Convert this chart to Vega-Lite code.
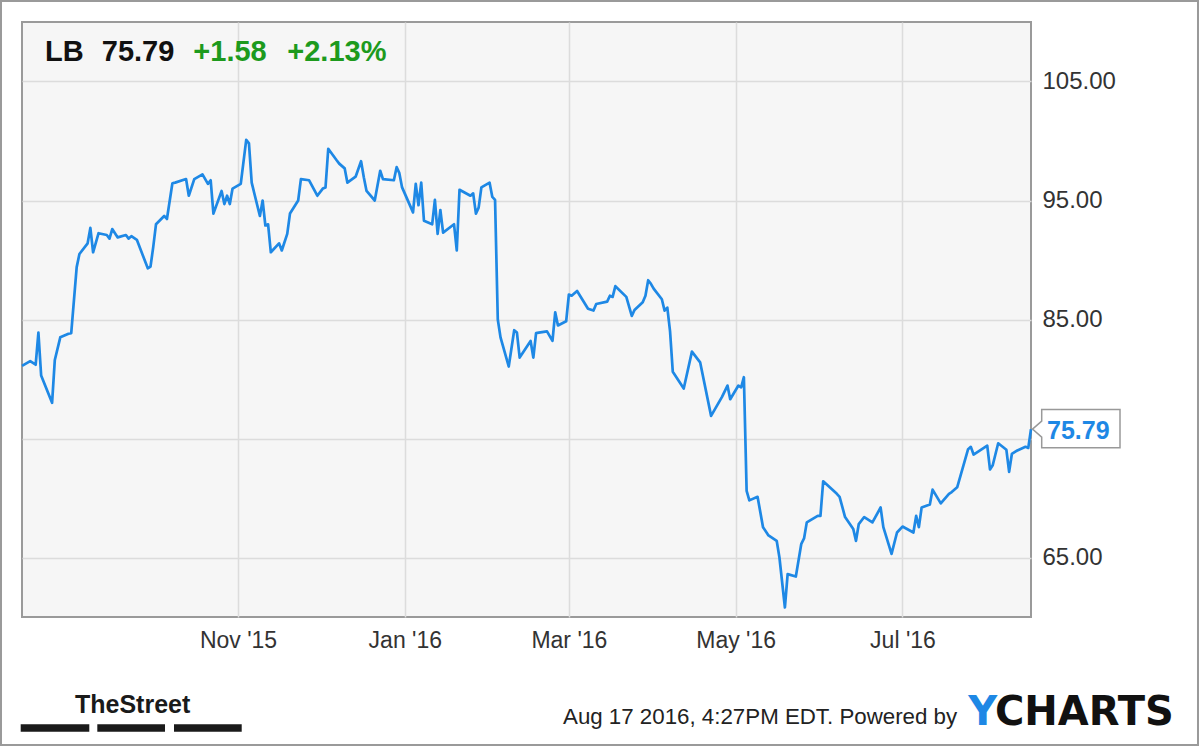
{
  "$schema": "https://vega.github.io/schema/vega-lite/v6.json",
  "autosize": "none",
  "width": 1009,
  "height": 595,
  "padding": {"left": 22, "top": 22, "right": 169, "bottom": 130},
  "background": "#ffffff",
  "config": {
    "view": {"fill": "#f6f6f6", "stroke": "#9a9a9a", "strokeWidth": 2},
    "axis": {"labelFont": "Liberation Sans", "labelColor": "#333333", "gridColor": "#dcdcdc", "gridWidth": 1.5, "ticks": false, "domain": false}
  },
  "datasets": {
    "prices": [
      {"date": "2015-08-14", "price": 81.1}, {"date": "2015-08-17", "price": 81.5}, {"date": "2015-08-19", "price": 81.2},
      {"date": "2015-08-20", "price": 83.9}, {"date": "2015-08-21", "price": 80.3}, {"date": "2015-08-25", "price": 78.0},
      {"date": "2015-08-26", "price": 81.6}, {"date": "2015-08-28", "price": 83.5}, {"date": "2015-08-31", "price": 83.8},
      {"date": "2015-09-01", "price": 83.85}, {"date": "2015-09-03", "price": 89.4}, {"date": "2015-09-04", "price": 90.5},
      {"date": "2015-09-07", "price": 91.4}, {"date": "2015-09-08", "price": 92.7}, {"date": "2015-09-09", "price": 90.65},
      {"date": "2015-09-11", "price": 92.25}, {"date": "2015-09-14", "price": 92.1}, {"date": "2015-09-15", "price": 91.8},
      {"date": "2015-09-16", "price": 92.6}, {"date": "2015-09-18", "price": 91.9}, {"date": "2015-09-21", "price": 92.1},
      {"date": "2015-09-22", "price": 91.8}, {"date": "2015-09-23", "price": 92.0}, {"date": "2015-09-25", "price": 91.7},
      {"date": "2015-09-29", "price": 89.3}, {"date": "2015-09-30", "price": 89.45}, {"date": "2015-10-01", "price": 91.1},
      {"date": "2015-10-02", "price": 93.0}, {"date": "2015-10-05", "price": 93.7}, {"date": "2015-10-06", "price": 93.45},
      {"date": "2015-10-08", "price": 96.45}, {"date": "2015-10-09", "price": 96.5}, {"date": "2015-10-13", "price": 96.8},
      {"date": "2015-10-14", "price": 95.4}, {"date": "2015-10-16", "price": 96.8}, {"date": "2015-10-19", "price": 97.2},
      {"date": "2015-10-21", "price": 96.4}, {"date": "2015-10-22", "price": 96.7}, {"date": "2015-10-23", "price": 93.9},
      {"date": "2015-10-26", "price": 95.8}, {"date": "2015-10-27", "price": 94.7}, {"date": "2015-10-28", "price": 95.4},
      {"date": "2015-10-29", "price": 94.7}, {"date": "2015-10-30", "price": 96.0}, {"date": "2015-11-02", "price": 96.4},
      {"date": "2015-11-04", "price": 100.1}, {"date": "2015-11-05", "price": 99.8}, {"date": "2015-11-06", "price": 96.5},
      {"date": "2015-11-09", "price": 93.7}, {"date": "2015-11-10", "price": 95.0}, {"date": "2015-11-11", "price": 92.9},
      {"date": "2015-11-12", "price": 93.0}, {"date": "2015-11-13", "price": 90.65}, {"date": "2015-11-16", "price": 91.4},
      {"date": "2015-11-17", "price": 90.8}, {"date": "2015-11-19", "price": 92.2}, {"date": "2015-11-20", "price": 93.9},
      {"date": "2015-11-23", "price": 95.0}, {"date": "2015-11-24", "price": 96.8}, {"date": "2015-11-27", "price": 96.7},
      {"date": "2015-11-30", "price": 95.4}, {"date": "2015-12-02", "price": 96.0}, {"date": "2015-12-03", "price": 96.1},
      {"date": "2015-12-04", "price": 99.35}, {"date": "2015-12-07", "price": 98.4}, {"date": "2015-12-08", "price": 98.1},
      {"date": "2015-12-10", "price": 97.7}, {"date": "2015-12-11", "price": 96.5}, {"date": "2015-12-14", "price": 97.0},
      {"date": "2015-12-16", "price": 98.3}, {"date": "2015-12-17", "price": 96.95}, {"date": "2015-12-18", "price": 95.8},
      {"date": "2015-12-21", "price": 95.0}, {"date": "2015-12-23", "price": 97.5}, {"date": "2015-12-24", "price": 96.8},
      {"date": "2015-12-28", "price": 96.7}, {"date": "2015-12-29", "price": 97.8}, {"date": "2015-12-30", "price": 97.3},
      {"date": "2015-12-31", "price": 96.1}, {"date": "2016-01-04", "price": 94.0}, {"date": "2016-01-05", "price": 96.4},
      {"date": "2016-01-06", "price": 94.6}, {"date": "2016-01-07", "price": 96.5}, {"date": "2016-01-08", "price": 93.3},
      {"date": "2016-01-11", "price": 93.0}, {"date": "2016-01-12", "price": 95.05}, {"date": "2016-01-13", "price": 92.2},
      {"date": "2016-01-14", "price": 94.2}, {"date": "2016-01-15", "price": 92.3}, {"date": "2016-01-19", "price": 93.0},
      {"date": "2016-01-20", "price": 90.8}, {"date": "2016-01-21", "price": 95.9}, {"date": "2016-01-25", "price": 95.4},
      {"date": "2016-01-26", "price": 95.6}, {"date": "2016-01-27", "price": 93.9}, {"date": "2016-01-28", "price": 94.4},
      {"date": "2016-01-29", "price": 96.1}, {"date": "2016-02-01", "price": 96.5}, {"date": "2016-02-02", "price": 95.3},
      {"date": "2016-02-03", "price": 95.05}, {"date": "2016-02-04", "price": 85.0}, {"date": "2016-02-05", "price": 83.5},
      {"date": "2016-02-08", "price": 81.05}, {"date": "2016-02-10", "price": 84.1}, {"date": "2016-02-11", "price": 83.9},
      {"date": "2016-02-12", "price": 81.8}, {"date": "2016-02-16", "price": 83.2}, {"date": "2016-02-17", "price": 81.8},
      {"date": "2016-02-18", "price": 83.85}, {"date": "2016-02-19", "price": 83.9}, {"date": "2016-02-22", "price": 84.0},
      {"date": "2016-02-24", "price": 83.2}, {"date": "2016-02-25", "price": 85.6}, {"date": "2016-02-26", "price": 84.5},
      {"date": "2016-02-29", "price": 84.85}, {"date": "2016-03-01", "price": 87.1}, {"date": "2016-03-02", "price": 87.0},
      {"date": "2016-03-04", "price": 87.4}, {"date": "2016-03-08", "price": 85.9}, {"date": "2016-03-10", "price": 85.75},
      {"date": "2016-03-11", "price": 86.3}, {"date": "2016-03-15", "price": 86.5}, {"date": "2016-03-16", "price": 87.0},
      {"date": "2016-03-17", "price": 86.9}, {"date": "2016-03-18", "price": 87.8}, {"date": "2016-03-22", "price": 86.9},
      {"date": "2016-03-24", "price": 85.3}, {"date": "2016-03-25", "price": 85.8}, {"date": "2016-03-28", "price": 86.45},
      {"date": "2016-03-29", "price": 87.0}, {"date": "2016-03-30", "price": 88.3}, {"date": "2016-03-31", "price": 88.0},
      {"date": "2016-04-01", "price": 87.6}, {"date": "2016-04-04", "price": 86.7}, {"date": "2016-04-05", "price": 85.75},
      {"date": "2016-04-06", "price": 86.0}, {"date": "2016-04-07", "price": 84.0}, {"date": "2016-04-08", "price": 80.6},
      {"date": "2016-04-12", "price": 79.2}, {"date": "2016-04-15", "price": 82.3}, {"date": "2016-04-18", "price": 81.4},
      {"date": "2016-04-22", "price": 76.9}, {"date": "2016-04-26", "price": 78.5}, {"date": "2016-04-28", "price": 79.45},
      {"date": "2016-04-29", "price": 78.3}, {"date": "2016-05-02", "price": 79.45}, {"date": "2016-05-03", "price": 79.3},
      {"date": "2016-05-04", "price": 80.15}, {"date": "2016-05-05", "price": 70.6}, {"date": "2016-05-06", "price": 69.8},
      {"date": "2016-05-09", "price": 70.1}, {"date": "2016-05-11", "price": 67.55}, {"date": "2016-05-13", "price": 66.85},
      {"date": "2016-05-16", "price": 66.4}, {"date": "2016-05-17", "price": 65.0}, {"date": "2016-05-19", "price": 60.8},
      {"date": "2016-05-20", "price": 63.6}, {"date": "2016-05-23", "price": 63.4}, {"date": "2016-05-25", "price": 66.15},
      {"date": "2016-05-26", "price": 66.6}, {"date": "2016-05-27", "price": 67.95}, {"date": "2016-05-31", "price": 68.5},
      {"date": "2016-06-01", "price": 68.5}, {"date": "2016-06-02", "price": 71.4}, {"date": "2016-06-07", "price": 70.35},
      {"date": "2016-06-08", "price": 70.1}, {"date": "2016-06-10", "price": 68.4}, {"date": "2016-06-13", "price": 67.4},
      {"date": "2016-06-14", "price": 66.4}, {"date": "2016-06-15", "price": 67.8}, {"date": "2016-06-17", "price": 68.4},
      {"date": "2016-06-20", "price": 67.95}, {"date": "2016-06-23", "price": 69.2}, {"date": "2016-06-24", "price": 67.55},
      {"date": "2016-06-27", "price": 65.3}, {"date": "2016-06-29", "price": 67.1}, {"date": "2016-07-01", "price": 67.6},
      {"date": "2016-07-05", "price": 67.1}, {"date": "2016-07-06", "price": 68.5}, {"date": "2016-07-07", "price": 67.55},
      {"date": "2016-07-08", "price": 69.2}, {"date": "2016-07-11", "price": 69.45}, {"date": "2016-07-12", "price": 70.7},
      {"date": "2016-07-15", "price": 69.55}, {"date": "2016-07-18", "price": 70.35}, {"date": "2016-07-19", "price": 70.5},
      {"date": "2016-07-21", "price": 70.9}, {"date": "2016-07-25", "price": 74.1}, {"date": "2016-07-26", "price": 74.3},
      {"date": "2016-07-27", "price": 73.65}, {"date": "2016-08-01", "price": 74.4}, {"date": "2016-08-02", "price": 72.4},
      {"date": "2016-08-03", "price": 72.75}, {"date": "2016-08-05", "price": 74.6}, {"date": "2016-08-08", "price": 74.05},
      {"date": "2016-08-09", "price": 72.2}, {"date": "2016-08-10", "price": 73.7}, {"date": "2016-08-12", "price": 74.0},
      {"date": "2016-08-15", "price": 74.3}, {"date": "2016-08-16", "price": 74.21}, {"date": "2016-08-17", "price": 75.79}
    ],
    "last": [{"date": "2016-08-17", "price": 75.79, "label": "75.79"}],
    "headerName": [
      {"date": "2015-08-22T10:00Z", "price": 106.72, "label": "LB"},
      {"date": "2015-09-12T04:00Z", "price": 106.72, "label": "75.79"}
    ],
    "headerChange": [
      {"date": "2015-10-15T16:00Z", "price": 106.72, "label": "+1.58"},
      {"date": "2015-11-19T00:30Z", "price": 106.72, "label": "+2.13%"}
    ],
    "frame": [{"date": "2015-08-06T07:40Z", "date2": "2016-10-17T01:40Z", "price": 111.76, "price2": 49.24}],
    "footerNote": [{"date": "2016-02-27T20:24Z", "price": 51.0, "label": "Aug 17 2016, 4:27PM EDT.  Powered by"}],
    "streetName": [{"date": "2015-09-02T09:00Z", "price": 51.93, "label": "TheStreet"}],
    "streetBars": [
      {"date": "2015-08-13T12:36Z", "date2": "2015-09-07T14:38Z", "price": 50.67},
      {"date": "2015-09-10T13:00Z", "date2": "2015-10-05T07:10Z", "price": 50.67},
      {"date": "2015-10-08T14:10Z", "date2": "2015-11-02T08:24Z", "price": 50.67}
    ],
    "logoY": [{"date": "2016-07-25T01:40Z", "price": 50.92, "label": "Y"}],
    "logoRest": [{"date": "2016-08-03T20:10Z", "price": 50.92, "label": "CHARTS"}]
  },
  "layer": [
    {
      "data": {"name": "prices"},
      "mark": {"type": "line", "color": "#1e88e5", "strokeWidth": 2.7, "strokeJoin": "round"},
      "encoding": {
        "x": {
          "field": "date", "type": "temporal",
          "scale": {"type": "utc", "nice": false, "domain": [{"year": 2015, "month": 8, "date": 14, "utc": true}, {"year": 2016, "month": 8, "date": 17, "utc": true}]},
          "axis": {
            "title": null, "grid": true, "format": "%b '%y", "labelFontSize": 23, "labelPadding": 12,
            "values": [
              {"year": 2015, "month": 11, "date": 1, "utc": true},
              {"year": 2016, "month": 1, "date": 1, "utc": true},
              {"year": 2016, "month": 3, "date": 1, "utc": true},
              {"year": 2016, "month": 5, "date": 1, "utc": true},
              {"year": 2016, "month": 7, "date": 1, "utc": true}
            ]
          }
        },
        "y": {
          "field": "price", "type": "quantitative",
          "scale": {"domain": [60, 110], "nice": false, "zero": false},
          "axis": {"title": null, "orient": "right", "grid": true, "values": [65, 75, 85, 95, 105], "format": ".2f", "labelExpr": "datum.value == 75 ? '' : datum.label", "labelFontSize": 24, "labelPadding": 11, "labelAlign": "left"}
        }
      }
    },
    {
      "data": {"name": "frame"},
      "mark": {"type": "rect", "fillOpacity": 0, "stroke": "#9a9a9a", "strokeWidth": 2, "clip": false},
      "encoding": {
        "x": {"field": "date", "type": "temporal"},
        "x2": {"field": "date2"},
        "y": {"field": "price", "type": "quantitative"},
        "y2": {"field": "price2"}
      }
    },
    {
      "data": {"name": "last"},
      "mark": {"type": "point", "shape": "M0.03,0L0.214,-0.16L0.214,-0.392L1.78,-0.392L1.78,0.374L0.214,0.374L0.214,0.16Z", "size": 10000, "filled": true, "fill": "#ffffff", "opacity": 1, "stroke": "#999999", "strokeWidth": 1.5, "clip": false},
      "encoding": {
        "x": {"field": "date", "type": "temporal"},
        "y": {"field": "price", "type": "quantitative"}
      }
    },
    {
      "data": {"name": "last"},
      "mark": {"type": "text", "align": "left", "baseline": "middle", "dx": 16, "dy": 2, "font": "Liberation Sans", "fontSize": 25, "fontWeight": "bold", "color": "#1e88e5", "clip": false},
      "encoding": {
        "x": {"field": "date", "type": "temporal"},
        "y": {"field": "price", "type": "quantitative"},
        "text": {"field": "label"}
      }
    },
    {
      "data": {"name": "headerName"},
      "mark": {"type": "text", "align": "left", "baseline": "alphabetic", "font": "Liberation Sans", "fontSize": 29, "fontWeight": "bold", "color": "#111111"},
      "encoding": {
        "x": {"field": "date", "type": "temporal"},
        "y": {"field": "price", "type": "quantitative"},
        "text": {"field": "label"}
      }
    },
    {
      "data": {"name": "headerChange"},
      "mark": {"type": "text", "align": "left", "baseline": "alphabetic", "font": "Liberation Sans", "fontSize": 29, "fontWeight": "bold", "color": "#1d9a1d"},
      "encoding": {
        "x": {"field": "date", "type": "temporal"},
        "y": {"field": "price", "type": "quantitative"},
        "text": {"field": "label"}
      }
    },
    {
      "data": {"name": "footerNote"},
      "mark": {"type": "text", "align": "left", "baseline": "alphabetic", "font": "Liberation Sans", "fontSize": 22.3, "color": "#222222", "clip": false},
      "encoding": {
        "x": {"field": "date", "type": "temporal"},
        "y": {"field": "price", "type": "quantitative"},
        "text": {"field": "label"}
      }
    },
    {
      "data": {"name": "streetName"},
      "mark": {"type": "text", "align": "left", "baseline": "alphabetic", "font": "Liberation Sans", "fontSize": 25, "fontWeight": "bold", "color": "#1a1a1a", "clip": false},
      "encoding": {
        "x": {"field": "date", "type": "temporal"},
        "y": {"field": "price", "type": "quantitative"},
        "text": {"field": "label"}
      }
    },
    {
      "data": {"name": "streetBars"},
      "mark": {"type": "rule", "strokeWidth": 7.5, "strokeCap": "butt", "color": "#1a1a1a", "clip": false},
      "encoding": {
        "x": {"field": "date", "type": "temporal"},
        "x2": {"field": "date2"},
        "y": {"field": "price", "type": "quantitative"}
      }
    },
    {
      "data": {"name": "logoY"},
      "mark": {"type": "text", "align": "left", "baseline": "alphabetic", "font": "DejaVu Sans", "fontSize": 40, "fontWeight": "bold", "color": "#1e88e5", "clip": false},
      "encoding": {
        "x": {"field": "date", "type": "temporal"},
        "y": {"field": "price", "type": "quantitative"},
        "text": {"field": "label"}
      }
    },
    {
      "data": {"name": "logoRest"},
      "mark": {"type": "text", "align": "left", "baseline": "alphabetic", "font": "DejaVu Sans", "fontSize": 40, "fontWeight": "bold", "color": "#111111", "clip": false},
      "encoding": {
        "x": {"field": "date", "type": "temporal"},
        "y": {"field": "price", "type": "quantitative"},
        "text": {"field": "label"}
      }
    }
  ]
}
